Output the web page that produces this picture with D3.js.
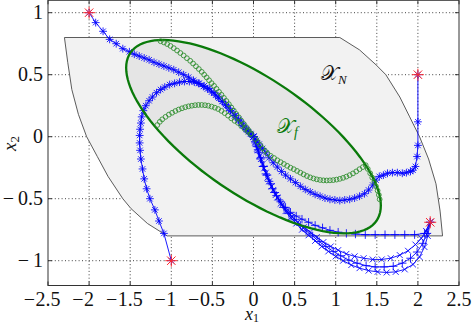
<!DOCTYPE html>
<html>
<head>
<meta charset="utf-8">
<script src="https://cdn.jsdelivr.net/npm/d3@7"></script>
<style>
  body { margin: 0; background: #fff; }
  svg { display: block; }
</style>
</head>
<body>
<svg id="chart" width="474" height="323"></svg>
<script>
// ---- axis settings ----
const xDomain = [-2.5, 2.5];
const yDomain = [-1.2, 1.1];
const xTicks = [-2.5, -2, -1.5, -1, -0.5, 0, 0.5, 1, 1.5, 2, 2.5];
const yTicks = [-1, -0.5, 0, 0.5, 1];
const xGrid = [-2, -1.5, -1, -0.5, 0, 0.5, 1, 1.5, 2];
const yGrid = [-1, -0.5, 0, 0.5, 1];

// ---- feasible set X_N (polygon vertices) ----
const regionXN = [
  [-2.30, 0.80], [1.05, 0.80],
  [1.29, 0.70], [1.49, 0.58], [1.61, 0.50], [1.78, 0.32], [1.90, 0.16],
  [2.02, 0.00], [2.13, -0.18], [2.22, -0.38], [2.27, -0.60], [2.30, -0.80],
  [-1.05, -0.80],
  [-1.29, -0.70], [-1.49, -0.58], [-1.59, -0.50], [-1.77, -0.32], [-1.90, -0.16],
  [-2.03, 0.00], [-2.13, 0.18], [-2.21, 0.38], [-2.26, 0.60]
];

// ---- terminal set X_f = {x : x' Q^{-1} x <= 1} ----
const ellipseQ = [[2.40, -0.86], [-0.86, 0.608]];

// ---- initial states ----
const initialStates = [[-2, 1], [2, 0.5], [-1, -1], [2.15, -0.69]];

// ---- closed-loop trajectories (blue) ----
const trajFromA = [
  [-2.00, 1.00], [-1.92, 0.92], [-1.83, 0.85], [-1.75, 0.785], [-1.67, 0.75],
  [-1.59, 0.71], [-1.51, 0.685], [-1.45, 0.665], [-1.39, 0.65], [-1.33, 0.635],
  [-1.27, 0.62], [-1.21, 0.60], [-1.15, 0.585], [-1.09, 0.57], [-1.03, 0.555],
  [-0.97, 0.54], [-0.91, 0.52], [-0.85, 0.50], [-0.79, 0.48], [-0.73, 0.455],
  [-0.67, 0.43], [-0.61, 0.405], [-0.56, 0.385], [-0.51, 0.36], [-0.46, 0.335],
  [-0.42, 0.31], [-0.38, 0.285], [-0.34, 0.26], [-0.30, 0.23], [-0.26, 0.20],
  [-0.22, 0.17], [-0.18, 0.14], [-0.15, 0.11], [-0.12, 0.085], [-0.09, 0.06],
  [-0.06, 0.04], [-0.03, 0.02], [0, 0]
];
const trajFromB = [
  [2.00, 0.50], [2.00, 0.12], [2.00, -0.07], [1.99, -0.16], [1.97, -0.24],
  [1.94, -0.27], [1.91, -0.28], [1.86, -0.29], [1.81, -0.295], [1.75, -0.29],
  [1.69, -0.29], [1.63, -0.295], [1.58, -0.31], [1.53, -0.32], [1.49, -0.35],
  [1.45, -0.39], [1.40, -0.43], [1.35, -0.46], [1.29, -0.48], [1.23, -0.495],
  [1.17, -0.505], [1.11, -0.51], [1.05, -0.515], [0.99, -0.51], [0.93, -0.505],
  [0.87, -0.495], [0.81, -0.48], [0.75, -0.465], [0.69, -0.445], [0.63, -0.425],
  [0.57, -0.40], [0.51, -0.37], [0.45, -0.34], [0.39, -0.31], [0.34, -0.28],
  [0.29, -0.245], [0.24, -0.21], [0.19, -0.17], [0.15, -0.13], [0.11, -0.095],
  [0.07, -0.06], [0.035, -0.03], [0, 0]
];
const trajFromC = [
  [-1.00, -1.00], [-1.09, -0.78], [-1.15, -0.68], [-1.20, -0.59], [-1.26, -0.50],
  [-1.30, -0.42], [-1.33, -0.34], [-1.35, -0.26], [-1.37, -0.18], [-1.38, -0.11],
  [-1.385, -0.05], [-1.385, 0.01], [-1.38, 0.06], [-1.37, 0.11], [-1.36, 0.16],
  [-1.34, 0.21], [-1.31, 0.25], [-1.27, 0.29], [-1.23, 0.32], [-1.18, 0.355],
  [-1.13, 0.38], [-1.08, 0.40], [-1.02, 0.42], [-0.96, 0.43], [-0.90, 0.44],
  [-0.84, 0.445], [-0.78, 0.445], [-0.72, 0.44], [-0.66, 0.43], [-0.60, 0.41],
  [-0.54, 0.39], [-0.48, 0.355], [-0.43, 0.32], [-0.38, 0.285], [-0.33, 0.25],
  [-0.28, 0.21], [-0.23, 0.17], [-0.18, 0.13], [-0.13, 0.09], [-0.08, 0.055],
  [-0.04, 0.025], [0, 0]
];
const trajFromD1 = [
  [2.15, -0.69], [2.08, -0.78], [1.96, -0.79], [1.84, -0.79], [1.72, -0.79],
  [1.60, -0.79], [1.48, -0.79], [1.36, -0.79], [1.24, -0.785], [1.13, -0.78],
  [1.03, -0.77], [0.93, -0.755], [0.84, -0.735], [0.75, -0.715], [0.67, -0.69],
  [0.59, -0.665], [0.52, -0.64], [0.45, -0.61], [0.39, -0.57], [0.33, -0.525],
  [0.28, -0.475], [0.23, -0.42], [0.19, -0.36], [0.15, -0.30], [0.115, -0.24],
  [0.085, -0.18], [0.06, -0.125], [0.04, -0.08], [0.02, -0.04], [0, 0]
];
const trajFromD2 = [
  [2.15, -0.69], [2.10, -0.76], [2.04, -0.82], [1.97, -0.87], [1.88, -0.92],
  [1.78, -0.955], [1.67, -0.98], [1.56, -0.99], [1.45, -0.99], [1.34, -0.98],
  [1.23, -0.965], [1.13, -0.945], [1.03, -0.915], [0.94, -0.885], [0.85, -0.85],
  [0.77, -0.81], [0.69, -0.77], [0.61, -0.73], [0.54, -0.69], [0.47, -0.645],
  [0.41, -0.60], [0.35, -0.55], [0.29, -0.49], [0.24, -0.43], [0.19, -0.36],
  [0.15, -0.29], [0.11, -0.22], [0.075, -0.155], [0.045, -0.095], [0.02, -0.045], [0, 0]
];
const trajFromD3 = [
  [2.15, -0.69], [2.11, -0.78], [2.06, -0.86], [1.99, -0.93], [1.91, -0.98],
  [1.81, -1.02], [1.70, -1.045], [1.59, -1.05], [1.48, -1.05], [1.37, -1.04],
  [1.26, -1.02], [1.16, -0.995], [1.06, -0.96], [0.97, -0.925], [0.88, -0.885],
  [0.80, -0.845], [0.72, -0.80], [0.64, -0.76], [0.57, -0.715], [0.50, -0.67],
  [0.43, -0.62], [0.37, -0.57], [0.31, -0.51], [0.26, -0.45], [0.21, -0.38],
  [0.165, -0.31], [0.125, -0.24], [0.09, -0.17], [0.055, -0.105], [0.025, -0.05], [0, 0]
];
const trajFromD4 = [
  [2.15, -0.69], [2.12, -0.80], [2.08, -0.89], [2.02, -0.97], [1.94, -1.03],
  [1.84, -1.07], [1.73, -1.09], [1.62, -1.095], [1.51, -1.09], [1.40, -1.08],
  [1.29, -1.06], [1.19, -1.035], [1.09, -1.00], [1.00, -0.965], [0.91, -0.925],
  [0.83, -0.885], [0.75, -0.84], [0.67, -0.795], [0.59, -0.75], [0.52, -0.70],
  [0.45, -0.65], [0.39, -0.60], [0.33, -0.54], [0.27, -0.47], [0.22, -0.40],
  [0.17, -0.33], [0.13, -0.255], [0.09, -0.18], [0.055, -0.11], [0.025, -0.05], [0, 0]
];

// ---- trajectories starting on the boundary of X_f (green circles) ----
const circTraj1 = [
  [-1.13, 0.770], [-1.09, 0.760], [-1.05, 0.747], [-1.01, 0.732], [-0.97, 0.714],
  [-0.93, 0.695], [-0.89, 0.675], [-0.85, 0.655], [-0.81, 0.633], [-0.77, 0.612],
  [-0.735, 0.590], [-0.70, 0.568], [-0.665, 0.546], [-0.63, 0.523], [-0.60, 0.50],
  [-0.57, 0.478], [-0.54, 0.455], [-0.51, 0.432], [-0.48, 0.41], [-0.45, 0.386],
  [-0.42, 0.362], [-0.39, 0.338], [-0.36, 0.313], [-0.33, 0.288], [-0.30, 0.262],
  [-0.27, 0.236], [-0.24, 0.21], [-0.21, 0.183], [-0.18, 0.157], [-0.15, 0.13],
  [-0.12, 0.104], [-0.09, 0.078], [-0.06, 0.052], [-0.03, 0.026]
];
const circTraj2 = [
  [-1.17, 0.094], [-1.14, 0.12], [-1.11, 0.14], [-1.07, 0.16], [-1.03, 0.178],
  [-0.99, 0.193], [-0.95, 0.207], [-0.91, 0.219], [-0.87, 0.229], [-0.83, 0.238],
  [-0.79, 0.245], [-0.75, 0.25], [-0.71, 0.254], [-0.67, 0.256], [-0.63, 0.256],
  [-0.59, 0.254], [-0.55, 0.25], [-0.51, 0.243], [-0.47, 0.234], [-0.43, 0.223],
  [-0.39, 0.208], [-0.35, 0.19], [-0.31, 0.17], [-0.27, 0.148], [-0.23, 0.128],
  [-0.19, 0.112], [-0.15, 0.088], [-0.11, 0.064], [-0.07, 0.04], [-0.035, 0.02]
];
const circTraj3 = [
  [1.365, -0.23], [1.33, -0.245], [1.29, -0.262], [1.25, -0.28], [1.21, -0.296],
  [1.17, -0.31], [1.13, -0.322], [1.09, -0.332], [1.05, -0.34], [1.01, -0.346],
  [0.97, -0.35], [0.93, -0.352], [0.89, -0.353], [0.85, -0.352], [0.81, -0.349],
  [0.77, -0.344], [0.73, -0.337], [0.69, -0.328], [0.65, -0.317], [0.61, -0.304],
  [0.57, -0.29], [0.53, -0.276], [0.49, -0.262], [0.45, -0.25], [0.41, -0.235],
  [0.37, -0.22], [0.33, -0.205], [0.29, -0.19], [0.25, -0.172], [0.21, -0.155],
  [0.17, -0.135], [0.14, -0.115], [0.11, -0.092], [0.08, -0.068], [0.05, -0.043],
  [0.025, -0.02]
];
const circTraj4 = [
  [1.39, -0.26], [1.42, -0.295], [1.445, -0.33], [1.47, -0.365], [1.49, -0.40],
  [1.51, -0.435], [1.525, -0.47], [1.535, -0.505]
];

const blueSeries = [
  { pts: trajFromA, marker: "star" },
  { pts: trajFromB, marker: "star" },
  { pts: trajFromC, marker: "star" },
  { pts: trajFromD1, marker: "plus" },
  { pts: trajFromD2, marker: "times" },
  { pts: trajFromD3, marker: "plus" },
  { pts: trajFromD4, marker: "times" }
];
const greenSeries = [circTraj1, circTraj2, circTraj3, circTraj4];

// ---- layout ----
const svg = d3.select("#chart");
const x = d3.scaleLinear().domain(xDomain).range([48, 459]);
const y = d3.scaleLinear().domain(yDomain).range([285.5, 0.3]);
const X0 = x.range()[0], X1 = x.range()[1];
const Y0 = y.range()[0], Y1 = y.range()[1];

const blue = "#0000ff", green = "#0a7a0a", circGreen = "#2c8c2c", red = "#ff2a2a";
const serif = "'Liberation Serif','Times New Roman',serif";

svg.append("defs").append("clipPath").attr("id", "plotClip")
  .append("rect").attr("x", X0).attr("y", Y1).attr("width", X1 - X0).attr("height", Y0 - Y1);

const plot = svg.append("g").attr("clip-path", "url(#plotClip)");

// dotted grid
const grid = plot.append("g").attr("stroke", "#2e2e2e").attr("stroke-width", 0.9)
  .attr("stroke-dasharray", "1,2.4").attr("fill", "none");
xGrid.forEach(v => grid.append("line")
  .attr("x1", x(v)).attr("x2", x(v)).attr("y1", Y0).attr("y2", Y1));
yGrid.forEach(v => grid.append("line")
  .attr("y1", y(v)).attr("y2", y(v)).attr("x1", X0).attr("x2", X1));

const line = d3.line().x(d => x(d[0])).y(d => y(d[1]));

// X_N
plot.append("path").datum(regionXN)
  .attr("d", d => line(d) + "Z")
  .attr("fill", "#f2f2f2").attr("stroke", "#4a4a4a").attr("stroke-width", 0.9);

// X_f boundary from the Cholesky factor of Q
const L11 = Math.sqrt(ellipseQ[0][0]);
const L21 = ellipseQ[1][0] / L11;
const L22 = Math.sqrt(ellipseQ[1][1] - L21 * L21);
const ellipsePts = d3.range(0, 361, 3).map(a => {
  const t = a * Math.PI / 180;
  return [L11 * Math.cos(t), L21 * Math.cos(t) + L22 * Math.sin(t)];
});
plot.append("path").datum(ellipsePts)
  .attr("d", d => line(d) + "Z")
  .attr("fill", "#e5e5e5").attr("stroke", "none");

// marker shapes
function markerPath(kind, r) {
  const d = r * Math.SQRT1_2;
  const plus = `M${-r},0L${r},0M0,${-r}L0,${r}`;
  const times = `M${-d},${-d}L${d},${d}M${-d},${d}L${d},${-d}`;
  if (kind === "plus") return plus;
  if (kind === "times") return times;
  return plus + times;
}

// blue trajectories
const trajG = plot.append("g");
blueSeries.forEach(s => {
  trajG.append("path").datum(s.pts).attr("d", line)
    .attr("fill", "none").attr("stroke", blue).attr("stroke-width", 0.9);
  const r = s.marker === "star" ? 3.9 : 4.2;
  trajG.append("g").selectAll("path").data(s.pts).join("path")
    .attr("transform", d => `translate(${x(d[0])},${y(d[1])})`)
    .attr("d", markerPath(s.marker, r))
    .attr("fill", "none").attr("stroke", blue).attr("stroke-width", 0.85);
});

// X_f boundary line
plot.append("path").datum(ellipsePts)
  .attr("d", d => line(d) + "Z")
  .attr("fill", "none").attr("stroke", green).attr("stroke-width", 2.3);

// green circle trajectories
const circG = plot.append("g");
greenSeries.forEach(pts => {
  circG.append("g").selectAll("circle").data(pts).join("circle")
    .attr("cx", d => x(d[0])).attr("cy", d => y(d[1])).attr("r", 2.4)
    .attr("fill", "none").attr("stroke", circGreen).attr("stroke-width", 0.85);
});

// initial states
plot.append("g").selectAll("path").data(initialStates).join("path")
  .attr("transform", d => `translate(${x(d[0])},${y(d[1])})`)
  .attr("d", markerPath("star", 6))
  .attr("fill", "none").attr("stroke", red).attr("stroke-width", 1);

// set labels
const xnLabel = svg.append("text").attr("x", 321).attr("y", 80)
  .attr("font-family", "'DejaVu Serif',serif").attr("font-size", 20).attr("fill", "#111");
xnLabel.append("tspan").text("𝒳");
xnLabel.append("tspan").attr("dy", 4).attr("font-size", 13)
  .attr("font-family", serif).attr("font-style", "italic").text("N");

const xfLabel = svg.append("text").attr("x", 277).attr("y", 133)
  .attr("font-family", "'DejaVu Serif',serif").attr("font-size", 20).attr("fill", green);
xfLabel.append("tspan").text("𝒳");
xfLabel.append("tspan").attr("dy", 4).attr("font-size", 14)
  .attr("font-family", serif).attr("font-style", "italic").text("f");

// axes frame and inward ticks
const axisG = svg.append("g").attr("stroke", "#333").attr("stroke-width", 1).attr("fill", "none");
axisG.append("rect").attr("x", X0).attr("y", Y1).attr("width", X1 - X0).attr("height", Y0 - Y1);
xTicks.forEach(v => {
  axisG.append("line").attr("x1", x(v)).attr("x2", x(v)).attr("y1", Y0).attr("y2", Y0 - 4);
  axisG.append("line").attr("x1", x(v)).attr("x2", x(v)).attr("y1", Y1).attr("y2", Y1 + 4);
});
yTicks.forEach(v => {
  axisG.append("line").attr("y1", y(v)).attr("y2", y(v)).attr("x1", X0).attr("x2", X0 + 4);
  axisG.append("line").attr("y1", y(v)).attr("y2", y(v)).attr("x1", X1).attr("x2", X1 - 4);
});

// tick labels: number centred on the tick, minus sign hanging to the left
const fmt = v => String(Math.abs(v));
const xLab = svg.append("g").attr("font-family", serif).attr("font-size", 20).attr("fill", "#111");
xTicks.forEach(v => {
  const t = xLab.append("text").attr("x", x(v)).attr("y", 306)
    .attr("text-anchor", "middle").text(fmt(v));
  if (v < 0) {
    const w = t.node().getComputedTextLength();
    xLab.append("text").attr("x", x(v) - w / 2 - 0.5).attr("y", 306)
      .attr("text-anchor", "end").text("\u2212");
  }
});
const yLab = svg.append("g").attr("font-family", serif).attr("font-size", 20).attr("fill", "#111");
yTicks.forEach(v => {
  yLab.append("text").attr("x", 43).attr("y", y(v) + 6.6)
    .attr("text-anchor", "end").text((v < 0 ? "\u2212\u2009" : "") + fmt(v));
});

// axis titles
const xt = svg.append("text").attr("x", 245).attr("y", 319.5)
  .attr("font-family", serif).attr("font-size", 18).attr("fill", "#111");
xt.append("tspan").attr("font-style", "italic").text("x");
xt.append("tspan").attr("dy", 2).attr("font-size", 12).text("1");

const yt = svg.append("text").attr("transform", "translate(16,151) rotate(-90)")
  .attr("font-family", serif).attr("font-size", 19).attr("fill", "#111");
yt.append("tspan").attr("font-style", "italic").text("x");
yt.append("tspan").attr("dy", 3).attr("font-size", 13).text("2");
</script>
</body>
</html>
